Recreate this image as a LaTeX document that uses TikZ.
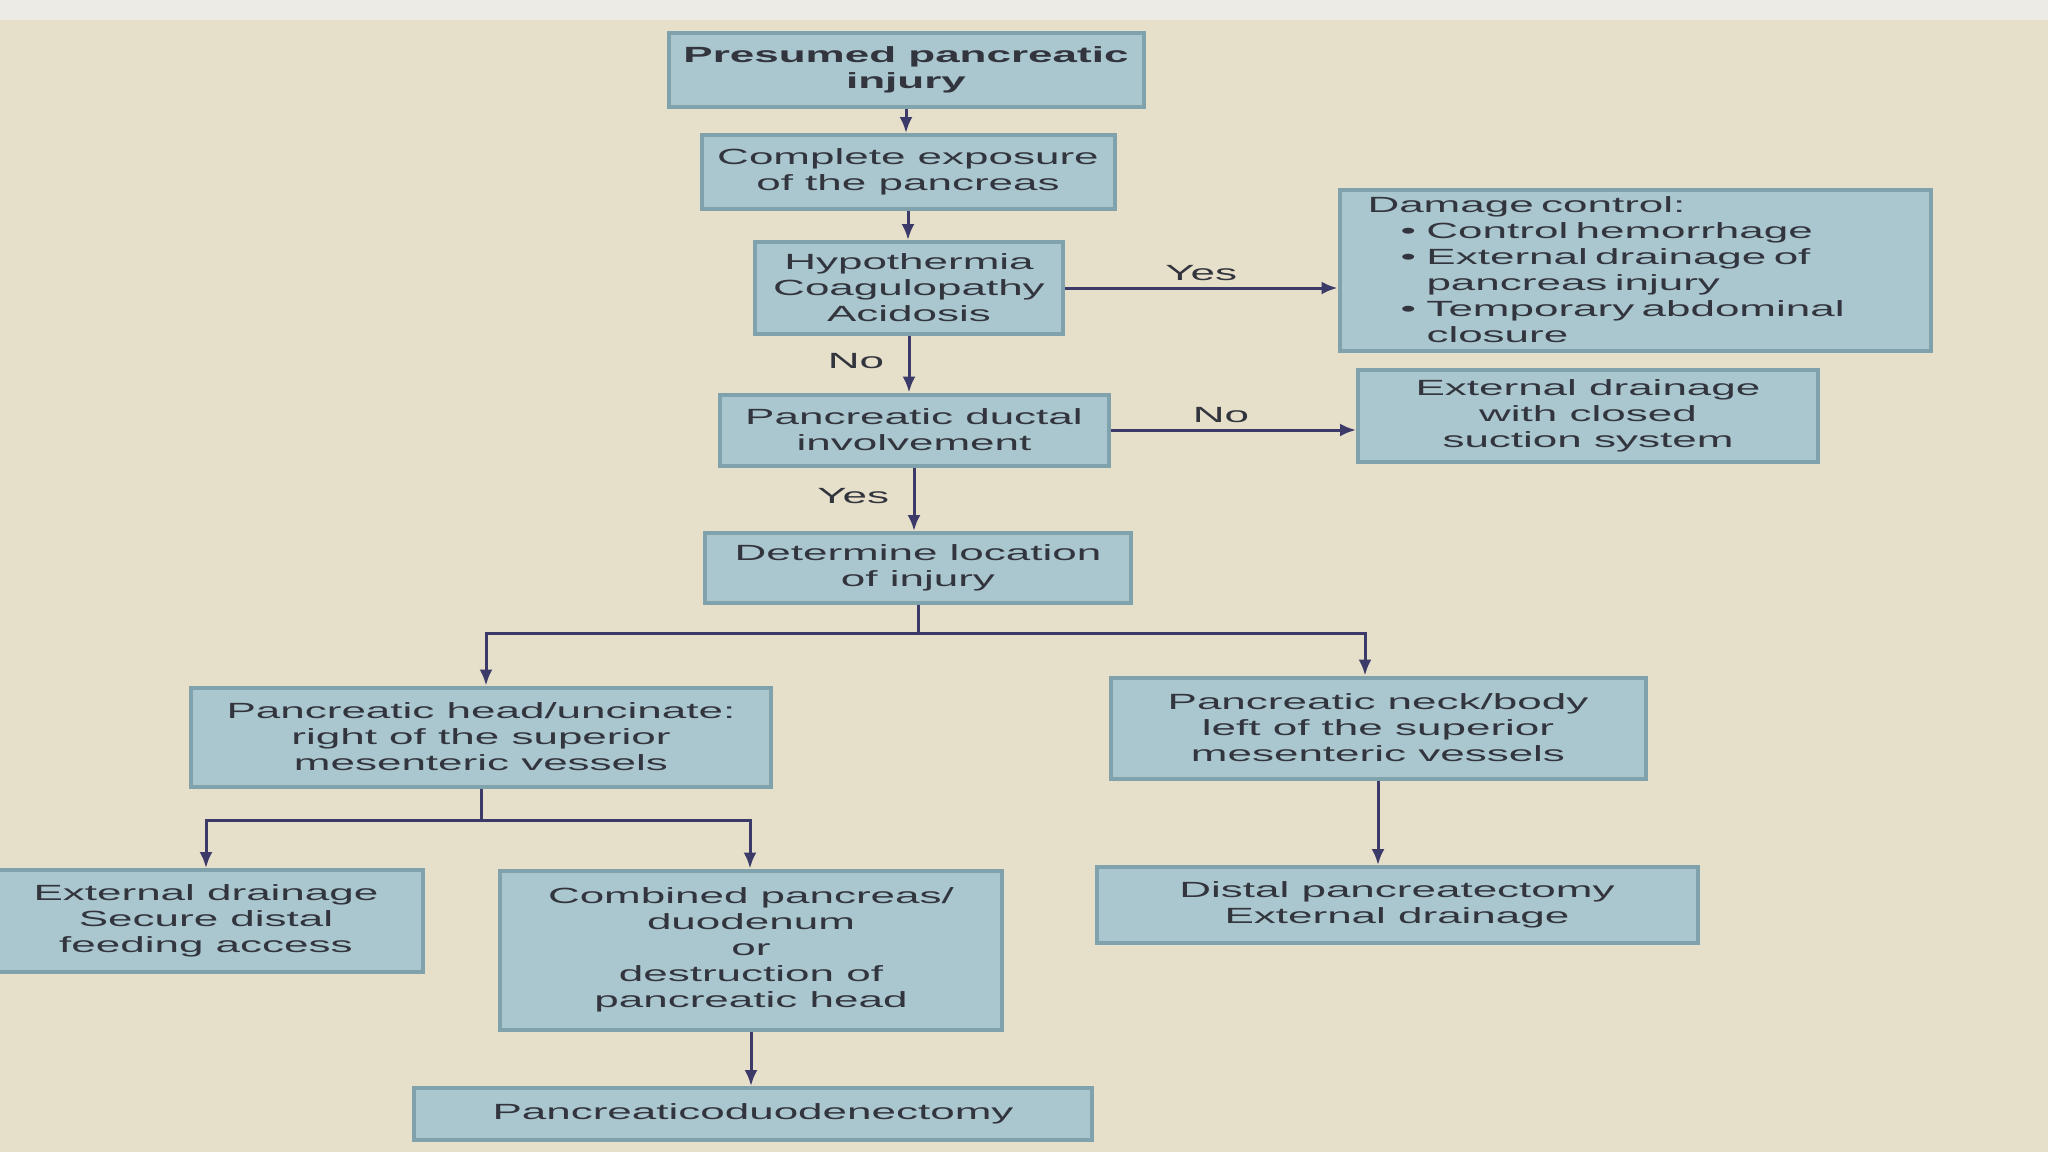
\documentclass[tikz,border=0pt]{standalone}
\usepackage{fontspec}
\setmainfont{Liberation Sans}[FakeStretch=2.0]
\usetikzlibrary{arrows.meta,calc}
\definecolor{paper}{HTML}{E6DFCA}
\definecolor{paperTop}{HTML}{ECEBE6}
\definecolor{boxfill}{HTML}{AAC6CE}
\definecolor{boxedge}{HTML}{7FA2AD}
\definecolor{inktext}{HTML}{33353E}
\definecolor{arrowink}{HTML}{3B3A68}
\tikzset{
  fbox/.style={draw=boxedge, line width=4pt, fill=boxfill, inner sep=0pt,
    align=center, text=inktext, font=\fontsize{22}{26}\selectfont},
  arr/.style={draw=arrowink, line width=3pt, -{Latex[length=16pt,width=13pt]}},
  ln/.style={draw=arrowink, line width=3pt},
  lbl/.style={text=inktext, font=\fontsize{22}{26}\selectfont}
}
\begin{document}
\begin{tikzpicture}[x=1pt,y=-1pt]
\useasboundingbox (0,0) rectangle (2048,1152);
\fill[paper] (0,0) rectangle (2048,1152);
\fill[paperTop] (0,0) rectangle (2048,20);

\node[fbox, minimum width=475, minimum height=74] (p1) at (906,70) {\bfseries Presumed pancreatic\\\bfseries injury};
\node[fbox, minimum width=413, minimum height=74] (p2) at (908,172) {Complete exposure\\of the pancreas};
\node[fbox, minimum width=308, minimum height=92] (p3) at (909,288) {Hypothermia\\Coagulopathy\\Acidosis};
\node[fbox, text width=535pt, inner xsep=28pt, minimum height=161, align=left] (dmg) at (1635,270)
 {Damage control:\\
  \hspace*{33pt}\makebox[26pt][l]{•}Control hemorrhage\\
  \hspace*{33pt}\makebox[26pt][l]{•}External drainage of\\
  \hspace*{59pt}pancreas injury\\
  \hspace*{33pt}\makebox[26pt][l]{•}Temporary abdominal\\
  \hspace*{59pt}closure};
\node[fbox, minimum width=389, minimum height=71] (p4) at (914,430) {Pancreatic ductal\\involvement};
\node[fbox, minimum width=460, minimum height=92] (ext) at (1588,416) {External drainage\\with closed\\suction system};
\node[fbox, minimum width=426, minimum height=70] (p5) at (918,568) {Determine location\\of injury};
\node[fbox, minimum width=580, minimum height=99] (head) at (481,737) {Pancreatic head/uncinate:\\right of the superior\\mesenteric vessels};
\node[fbox, minimum width=535, minimum height=101] (neck) at (1378,728) {Pancreatic neck/body\\left of the superior\\mesenteric vessels};
\node[fbox, minimum width=433, minimum height=102] (sec) at (206,921) {External drainage\\Secure distal\\feeding access};
\node[fbox, minimum width=502, minimum height=159] (comb) at (751,950) {Combined pancreas/\\duodenum\\or\\destruction of\\pancreatic head};
\node[fbox, minimum width=601, minimum height=76] (dist) at (1397,905) {Distal pancreatectomy\\External drainage};
\node[fbox, minimum width=678, minimum height=52] (pd) at (753,1114) {Pancreaticoduodenectomy};

\coordinate (b1) at (918,633);
\coordinate (b2) at (481,820);

\draw[arr] (p1.south) -- (p1.south |- p2.north);
\draw[arr] (p2.south) -- (p2.south |- p3.north);
\draw[arr] (p3.south) -- node[lbl, left=20pt, pos=0.45] (no1) {No} (p3.south |- p4.north);
\draw[arr] (p3.east) -- node[lbl, above=2pt, pos=0.5] (yes1) {Yes} (p3.east -| dmg.west);
\draw[arr] (p4.east) -- node[lbl, above=2pt, pos=0.45] (no2) {No} (p4.east -| ext.west);
\draw[arr] (p4.south) -- node[lbl, left=20pt, pos=0.45] (yes2) {Yes} (p4.south |- p5.north);
\draw[ln] (p5.south) -- (b1);
\draw[arr] (b1) -| ([xshift=5pt]head.north);
\draw[arr] (b1) -| ([xshift=-13pt]neck.north);
\draw[ln] (head.south) -- (b2);
\draw[arr] (b2) -| (sec.north);
\draw[arr] (b2) -| ([xshift=-1pt]comb.north);
\draw[arr] (neck.south) -- (neck.south |- dist.north);
\draw[arr] (comb.south) -- (comb.south |- pd.north);
\end{tikzpicture}
\end{document}
